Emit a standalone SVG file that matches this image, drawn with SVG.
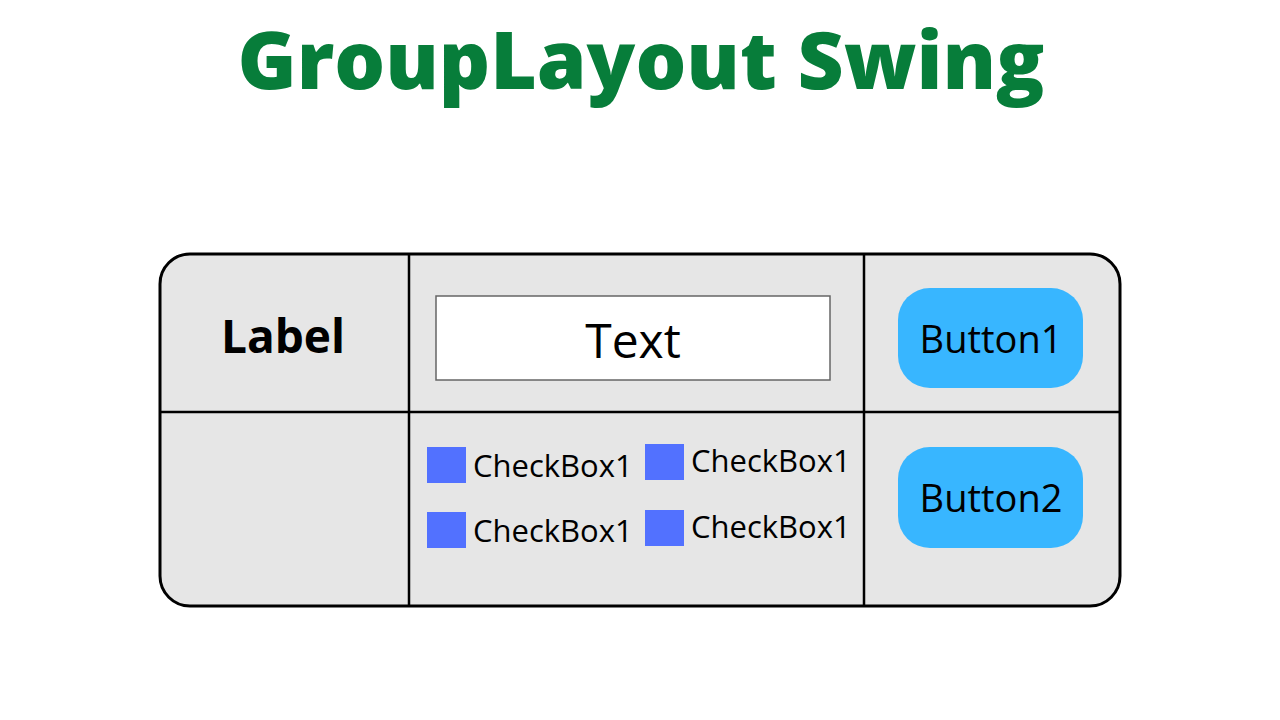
<svg xmlns="http://www.w3.org/2000/svg" width="1280" height="720" viewBox="0 0 1280 720">
<style>
  .title{font-family:"Open Sans","Noto Sans","Liberation Sans",sans-serif;font-weight:800;font-size:80px;fill:#077D3A}
  .lbl{font-family:"Open Sans","Noto Sans","Liberation Sans",sans-serif;font-weight:700;font-size:46px;fill:#000}
  .txt{font-family:"Open Sans","Noto Sans","Liberation Sans",sans-serif;font-size:48px;fill:#000}
  .btn{fill:#38B6FF}
  .btnt{font-family:"Open Sans","Noto Sans","Liberation Sans",sans-serif;font-size:38px;fill:#000}
  .cb{fill:#5271FF}
  .cbt{font-family:"Open Sans","Noto Sans","Liberation Sans",sans-serif;font-size:31px;fill:#000}
  .grid{stroke:#000;stroke-width:2.5;fill:none}
</style>
<rect width="1280" height="720" fill="#fff"/>
<text class="title" x="641" y="89" text-anchor="middle">GroupLayout Swing</text>
<g id="panel">
  <rect x="160" y="254" width="960" height="352" rx="30" fill="#E6E6E6" stroke="#000" stroke-width="3"/>
</g>
<g id="connectors">
  <line class="grid" x1="409" y1="254" x2="409" y2="606"/>
  <line class="grid" x1="864" y1="254" x2="864" y2="606"/>
  <line class="grid" x1="160" y1="412" x2="1120" y2="412"/>
</g>
<g id="label">
  <text class="lbl" x="283" y="353" text-anchor="middle">Label</text>
</g>
<g id="textfield">
  <rect x="436" y="296" width="394" height="84" fill="#fff" stroke="#666" stroke-width="1.5"/>
  <text class="txt" x="633" y="358" text-anchor="middle">Text</text>
</g>
<g id="button1">
  <rect class="btn" x="898" y="288" width="185" height="100" rx="32"/>
  <text class="btnt" x="991" y="353" text-anchor="middle">Button1</text>
</g>
<g id="button2">
  <rect class="btn" x="898" y="447" width="185" height="101" rx="32"/>
  <text class="btnt" x="991" y="512" text-anchor="middle">Button2</text>
</g>
<g id="checkbox1">
  <rect class="cb" x="427" y="447" width="39" height="36"/>
  <text class="cbt" x="473" y="477">CheckBox1</text>
</g>
<g id="checkbox2">
  <rect class="cb" x="645" y="444" width="39" height="36"/>
  <text class="cbt" x="691" y="472">CheckBox1</text>
</g>
<g id="checkbox3">
  <rect class="cb" x="427" y="512" width="39" height="36"/>
  <text class="cbt" x="473" y="542">CheckBox1</text>
</g>
<g id="checkbox4">
  <rect class="cb" x="645" y="510" width="39" height="36"/>
  <text class="cbt" x="691" y="538">CheckBox1</text>
</g>
</svg>
